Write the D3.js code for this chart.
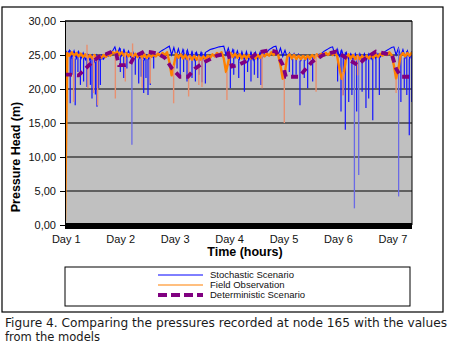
<!DOCTYPE html>
<html><head><meta charset="utf-8">
<script src="https://cdn.jsdelivr.net/npm/d3@7"></script>
<style>html,body{margin:0;padding:0;background:#fff;}svg{display:block;}</style>
</head><body>
<script>
// ---- DATA (hourly samples, hour = index) ----
const dayLabels = ["Day 1","Day 2","Day 3","Day 4","Day 5","Day 6","Day 7"];
const dayTickHours = [0,24,48,72,96,120,144];
const yTicks = [0,5,10,15,20,25,30];
const seriesNames = ["Stochastic Scenario","Field Observation","Deterministic Scenario"];

const stochastic = [25.8,25.2,25.7,24.6,25.6,24.5,25.5,24.4,25.3,24.3,25.1,24.2,25.0,24.0,25.0,24.2,25.0,24.4,25.0,24.8,
25.4,25.6,26.2,25.0,26.0,24.9,25.8,24.8,25.6,24.7,25.4,24.6,25.2,24.5,25.1,24.3,25.0,24.4,25.0,24.6,
25.0,25.2,25.5,25.7,25.9,26.1,26.3,25.0,26.1,24.8,25.9,24.6,25.8,24.5,25.7,24.4,25.5,24.3,25.4,24.3,
25.4,24.5,25.4,25.6,25.8,25.9,26.0,26.1,26.2,26.25,26.3,25.0,26.0,24.8,25.8,24.6,25.6,24.4,25.5,24.3,
25.5,24.2,25.4,24.3,25.4,24.4,25.4,24.6,25.4,25.4,25.8,26.0,26.2,26.3,25.0,26.0,24.8,25.7,24.6,25.3,
24.4,25.2,24.3,25.1,24.2,25.0,24.3,24.9,24.4,24.9,24.6,25.0,25.1,25.2,25.5,25.7,25.9,26.1,26.2,25.0,
25.9,24.8,25.7,24.6,25.4,24.4,25.2,24.3,25.2,24.2,25.2,24.2,25.2,24.3,25.2,24.4,25.2,24.5,25.2,24.7,
25.2,25.5,25.7,25.9,26.1,26.2,25.0,26.0,24.8,25.8,24.6,25.6,24.5,25.5];
// downward spikes of the stochastic series: [hour, value reached]
const stochasticSpikes = [[0.9,24.0],[2.3,17.9],[3.1,22.1],[4.5,17.6],[5.7,22.5],[6.8,20.6],[8.2,21.1],[9.7,20.3],
[11.2,20.6],[11.9,18.6],[13.4,19.2],[14.1,17.4],[14.8,20.1],[15.6,20.6],[16.3,24.3],
[24.4,22.5],[25.9,21.6],[27.3,23.0],[29.5,11.8],[31.0,22.1],[32.5,20.8],[33.6,21.8],[34.7,19.4],[35.7,21.6],[36.6,19.1],[37.6,20.6],[39.1,23.0],
[49.4,23.0],[50.8,21.8],[52.3,22.5],[53.8,21.1],[56.0,21.6],[57.5,21.1],[59.0,22.1],[60.4,21.0],[61.9,20.8],
[72.9,20.1],[74.4,22.1],[76.6,21.6],[79.1,19.6],[80.5,22.5],[82.0,21.1],[83.5,22.1],[85.0,21.6],[86.4,20.6],
[98.9,22.5],[100.4,21.6],[101.9,22.1],[103.6,17.6],[105.5,21.6],[107.0,20.1],[109.2,21.1],
[120.2,21.1],[121.7,16.7],[122.7,19.1],[123.6,14.0],[125.1,18.1],[126.5,19.1],[127.6,2.45],[128.6,16.7],[129.5,7.35],
[131.0,19.6],[132.7,17.2],[133.9,18.6],[135.7,15.4],[137.1,20.1],[138.6,19.1],
[147.1,4.2],[148.1,18.1],[149.6,20.1],[150.7,19.1],[151.8,13.2],[152.9,18.1]];

const field = [0.6,25.3,24.9,25.4,24.9,25.3,24.8,25.2,24.7,25.1,24.6,25.0,24.5,25.0,24.5,24.9,24.6,25.0,24.7,25.1,
24.9,25.4,25.2,25.5,25.0,25.4,24.9,25.3,24.8,25.2,24.7,25.2,24.7,25.1,24.6,25.1,24.6,25.0,24.7,25.1,
24.8,25.2,24.9,25.3,25.0,25.4,24.0,22.0,23.5,25.2,24.6,25.1,24.5,25.0,24.4,24.9,24.3,24.9,24.3,24.8,
24.3,24.8,24.4,24.9,24.6,25.1,24.8,25.3,25.0,25.4,24.5,22.5,24.0,25.3,24.7,25.2,24.6,25.1,24.5,25.0,
24.5,25.0,24.5,25.0,24.5,25.0,24.6,25.1,24.8,25.2,24.9,25.4,25.0,25.5,25.0,23.5,21.5,22.5,24.8,25.1,
24.5,25.0,24.4,24.9,24.4,24.9,24.4,24.9,24.5,25.0,24.6,25.1,24.7,25.2,24.9,25.3,25.0,25.4,25.0,25.4,
24.8,23.0,21.5,22.5,24.6,25.1,24.5,25.0,24.4,24.9,24.4,24.9,24.4,24.9,24.5,25.0,24.6,25.1,24.7,25.2,
24.9,25.3,25.0,25.4,25.0,23.5,21.5,23.0,24.9,25.3,24.8,25.3,24.9,25.4];
// spikes of the field observation: [hour, value reached]
const fieldSpikes = [[3.8,18.1],[9.7,26.5],[10.1,20.1],[12.6,19.4],[14.4,17.6],[22.2,18.6],[26.6,21.1],[29.8,26.7],
[34.0,20.2],[37.6,20.8],[47.9,17.9],[54.5,18.9],[59.0,20.6],[60.4,20.3],[71.4,18.4],[86.9,20.1],
[96.7,15.0],[110.7,19.6],[122.6,19.0],[129.0,22.0],[146.0,19.4]];

const detHours = [0,2.2,6,8.4,10.6,12.8,15,18,20.7,22.5,23.8,26.5,28.7,30.4,34.8,38.4,41,44,47.2,50.7,54.2,57.3,
61.7,67,71.9,73.6,76.3,81.1,85.1,90,93,96.1,97.4,103.2,106.3,108.9,113.8,119.5,125.2,129.2,132.7,137.1,144.2,146,148.1,153];
const detValues = [22.1,22.1,22.0,22.8,23.5,24.2,24.75,25.1,25.5,25.3,23.5,23.5,23.6,24.7,25.5,25.4,25.2,24.6,23.0,21.8,21.8,23.0,
24.0,24.9,25.25,23.3,23.5,24.3,25.4,25.7,25.5,23.5,21.8,21.8,23.0,24.0,25.0,25.5,24.3,23.5,24.6,25.5,25.0,23.0,21.8,21.8];

// ---- DRAW ----
const W = 455, H = 353;
const svg = d3.select("body").append("svg").attr("width", W).attr("height", H);
const plot = {l:65, r:412, t:21, b:225};
const x = d3.scaleLinear().domain([0,153]).range([plot.l, plot.r]);
const y = d3.scaleLinear().domain([0,30]).range([plot.b, plot.t]);
const font = "'Liberation Sans', Arial, sans-serif";

// outer frame
svg.append("rect").attr("x",2).attr("y",7).attr("width",441).attr("height",305)
  .attr("fill","#fff").attr("stroke","#000").attr("stroke-width",1.2);

// plot background
svg.append("rect").attr("x",plot.l).attr("y",plot.t).attr("width",plot.r-plot.l).attr("height",plot.b-plot.t)
  .attr("fill","#c0c0c0");

// gridlines
svg.append("g").selectAll("line").data(yTicks.filter(d=>d>0)).join("line")
  .attr("x1",plot.l).attr("x2",plot.r).attr("y1",d=>y(d)).attr("y2",d=>y(d))
  .attr("stroke","#000").attr("stroke-width",1);

const clip = svg.append("clipPath").attr("id","clip").append("rect")
  .attr("x",plot.l).attr("y",plot.t).attr("width",plot.r-plot.l).attr("height",plot.b-plot.t+3);
const g = svg.append("g").attr("clip-path","url(#clip)");

const line = d3.line().x(d=>x(d[0])).y(d=>y(d[1]));

// stochastic
const stoPts = stochastic.map((v,i)=>[i,v]);
g.append("path").datum(stoPts).attr("d",line).attr("fill","none").attr("stroke","#0000ff").attr("stroke-width",1.1);
g.append("g").selectAll("line").data(stochasticSpikes).join("line")
  .attr("x1",d=>x(d[0])).attr("x2",d=>x(d[0]))
  .attr("y1",d=>y(stochastic[Math.round(d[0])])).attr("y2",d=>y(d[1]))
  .attr("stroke",d=>d[1]<12?"#6a6ae6":"#1414ff").attr("stroke-width",d=>d[1]<12?1.3:1.2);

// field observation
const fieldPts = field.map((v,i)=>[i,v]);
g.append("path").datum(fieldPts).attr("d",line).attr("fill","none").attr("stroke","#ff8000")
  .attr("stroke-width",2.4).attr("stroke-linejoin","round");
g.append("g").selectAll("line").data(fieldSpikes).join("line")
  .attr("x1",d=>x(d[0])).attr("x2",d=>x(d[0]))
  .attr("y1",d=>y(field[Math.round(d[0])])).attr("y2",d=>y(d[1]))
  .attr("stroke","#e89070").attr("stroke-width",1.4);

// deterministic
const detPts = detHours.map((h,i)=>[h,detValues[i]]);
g.append("path").datum(detPts).attr("d",line).attr("fill","none").attr("stroke","#800080")
  .attr("stroke-width",3.8).attr("stroke-dasharray","7,5");

// plot border top/right
svg.append("line").attr("x1",plot.l).attr("x2",plot.r).attr("y1",plot.t).attr("y2",plot.t).attr("stroke","#000");
svg.append("line").attr("x1",plot.r).attr("x2",plot.r).attr("y1",plot.t).attr("y2",plot.b).attr("stroke","#000");

// y axis
const yAxis = d3.axisLeft(y).tickValues(yTicks).tickSize(5).tickFormat(d=>d3.format(".2f")(d).replace(".",","));
const ya = svg.append("g").attr("transform",`translate(${plot.l},0)`).call(yAxis);
ya.select(".domain").attr("stroke","#000");
ya.selectAll("text").attr("font-family",font).attr("font-size",11).attr("fill","#111").attr("dx",-1);

// x axis (thick baseline)
svg.append("line").attr("x1",plot.l).attr("x2",plot.r).attr("y1",y(0)+1).attr("y2",y(0)+1)
  .attr("stroke","#000").attr("stroke-width",6);
const xAxis = d3.axisBottom(x).tickValues(dayTickHours).tickSize(0).tickFormat((d,i)=>dayLabels[i]);
const xa = svg.append("g").attr("transform",`translate(0.8,${plot.b+6})`).call(xAxis);
xa.select(".domain").remove();
xa.selectAll("text").attr("font-family",font).attr("font-size",11).attr("fill","#111").attr("dy","0.85em");

// axis titles
svg.append("text").attr("x",245).attr("y",256).attr("text-anchor","middle")
  .attr("font-family",font).attr("font-size",12.5).attr("font-weight","bold").text("Time (hours)");
svg.append("text").attr("transform","translate(20,157) rotate(-90)").attr("text-anchor","middle")
  .attr("font-family",font).attr("font-size",12.5).attr("font-weight","bold").text("Pressure Head (m)");

// legend
svg.append("rect").attr("x",65).attr("y",267).attr("width",345).attr("height",39)
  .attr("fill","#fff").attr("stroke","#000").attr("stroke-width",1);
const legStyles = [
  {c:"#0000ff", w:1, dash:null},
  {c:"#ff8000", w:1.2, dash:null},
  {c:"#800080", w:4, dash:"9,4"}];
const legY = [275, 285, 295];
seriesNames.forEach((n,i)=>{
  svg.append("line").attr("x1",158).attr("x2",203).attr("y1",legY[i]).attr("y2",legY[i])
    .attr("stroke",legStyles[i].c).attr("stroke-width",legStyles[i].w)
    .attr("stroke-dasharray",legStyles[i].dash);
  svg.append("text").attr("x",210).attr("y",legY[i]+3.2).attr("font-family",font).attr("font-size",9.5)
    .attr("fill","#111").text(n);
});

// caption
svg.append("text").attr("x",5).attr("y",327).attr("font-family","'DejaVu Sans', sans-serif").attr("font-size",12)
  .attr("fill","#1a1a1a").attr("textLength",442).attr("lengthAdjust","spacingAndGlyphs")
  .text("Figure 4. Comparing the pressures recorded at node 165 with the values");
svg.append("text").attr("x",5).attr("y",341).attr("font-family","'DejaVu Sans', sans-serif").attr("font-size",12)
  .attr("fill","#1a1a1a").attr("textLength",95).attr("lengthAdjust","spacingAndGlyphs")
  .text("from the models");
</script>
</body></html>
